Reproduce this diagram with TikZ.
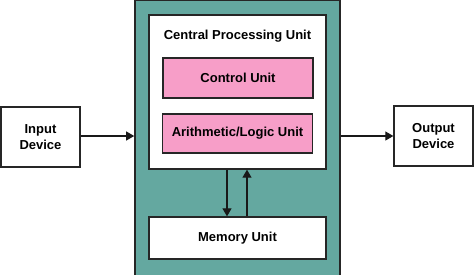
\documentclass[tikz,border=0pt]{standalone}
\usepackage{fontspec}
\setmainfont{Liberation Sans}
\usepackage{tikz}
\usetikzlibrary{arrows.meta,positioning,calc}
\definecolor{cputeal}{RGB}{100,168,160}
\definecolor{unitpink}{RGB}{247,158,200}
\tikzset{
  signal/.style={-{Triangle[length=8pt,width=9pt]}, line width=1.1pt, draw=black!90},
  label/.style={font=\fontsize{13}{15.5}\selectfont\bfseries, align=center},
  box/.style={label, draw=black!85, line width=1.3pt, rectangle, fill=white, inner sep=0pt},
  unit/.style={box, fill=unitpink},
  shell/.style={draw=black!85, line width=1.6pt, rectangle, fill=cputeal, inner sep=0pt}
}

\begin{document}
\begin{tikzpicture}[x=1pt, y=-1pt]
  \useasboundingbox (0,0) rectangle (474,274);
  \clip (0,0) rectangle (474,274);
  % cpu housing
  \node[shell, minimum width=205pt, minimum height=290pt] (outer) at (237.5,145) {};
  \node[box, minimum width=177pt, minimum height=154pt] (cpu) at (237.5,92) {};
  \node[label] (cputitle) at (237.5,36) {Central Processing Unit};
  \node[unit, minimum width=150pt, minimum height=40pt] (ctrl) at (238,78) {Control Unit};
  \node[unit, minimum width=150pt, minimum height=39pt] (alu) at (237.5,133.5) {Arithmetic/Logic Unit};
  \node[box, minimum width=177pt, minimum height=42pt] (mem) at (237.5,238) {Memory Unit};
  % devices
  \node[box, minimum width=79pt, minimum height=60pt] (input) at (40.5,137) {Input\\Device};
  \node[box, minimum width=79pt, minimum height=60pt] (output) at (433.5,136) {Output\\Device};
  \draw[signal] (input.east |- 0,136) -- (outer.west |- 0,136);
  \draw[signal] (outer.east |- output.west) -- (output.west);
  \draw[signal] ([xshift=-10.5pt]cpu.south) -- ([xshift=-10.5pt]mem.north);
  \draw[signal] ([xshift=9.5pt]mem.north) -- ([xshift=9.5pt]cpu.south);
\end{tikzpicture}
\end{document}
